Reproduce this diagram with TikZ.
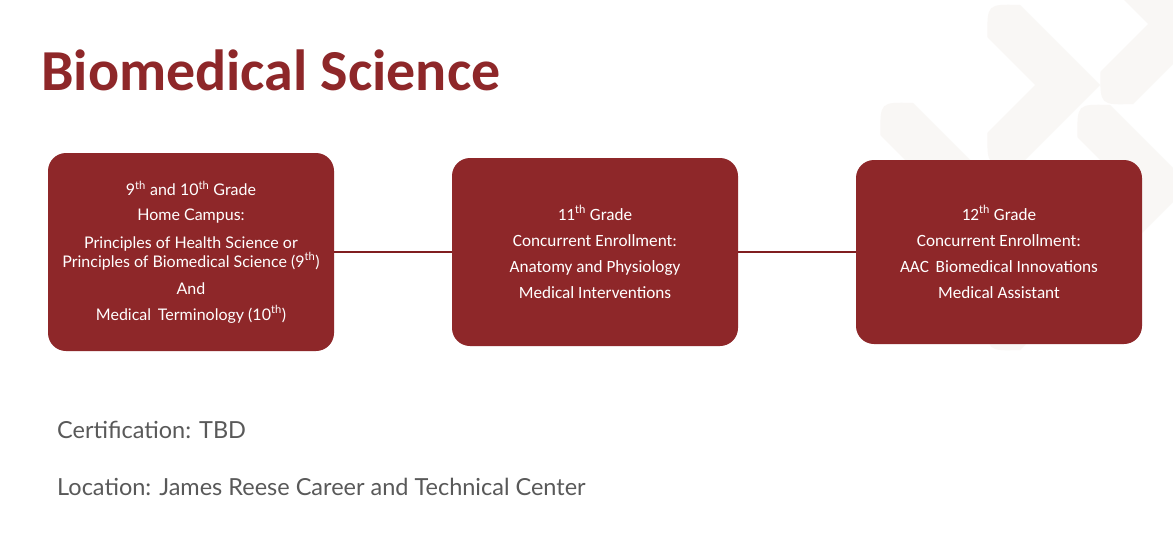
\documentclass[tikz,border=0pt]{standalone}
\usepackage{fontspec}
\setmainfont{Lato}
\newfontfamily\carlito{Carlito}
\newfontfamily\aptos{Lato}
\definecolor{brick}{RGB}{142,39,41}
\definecolor{lineRed}{RGB}{128,30,32}
\definecolor{chevfill}{RGB}{249,247,245}
\definecolor{graytext}{RGB}{89,89,89}
\newcommand\chevshape[2]{%
  \fill[chevfill,shift={(#1,#2)}] (0,0) -- (80,80) -- (0,160)
    .. controls (-33,161) .. (-32.5,127.5) -- (15,80) -- (-32.5,32.5)
    .. controls (-33,-1) .. (0,0) -- cycle;}
\tikzset{
  gradebox/.style={fill=brick, rounded corners=18pt, minimum width=286pt,
    inner sep=0pt, text=white, align=center},
  conn/.style={draw=lineRed, line width=2pt},
  footnote text/.style={anchor=west, text=graytext, font=\aptos\fontsize{23.5}{28}\selectfont, inner sep=0pt}
}
\begin{document}
\begin{tikzpicture}[x=1pt,y=-1pt]
\useasboundingbox (0,0) rectangle (1173,550);
\fill[white] (0,0) rectangle (1173,550);
\begin{scope}
  \clip (0,0) rectangle (1173,550);
  \chevshape{1020}{5}
  \chevshape{1133}{-56}
  \chevshape{913}{103}
  \chevshape{1110}{105}
  \chevshape{1020}{190}
\end{scope}

\node[anchor=base west, inner sep=0pt, text=brick, font=\carlito\bfseries\fontsize{58}{64}\selectfont] (title) at (41,90) {Biomedical Science};

\node[gradebox, minimum height=198pt, font=\aptos\fontsize{16}{18.5}\selectfont] (b1) at (191,252)
  {9\textsuperscript{th} and 10\textsuperscript{th} Grade\\[6.5pt]
   Home Campus:\\[9.5pt]
   Principles of Health Science or\\
   Principles of Biomedical Science (9\textsuperscript{th})\\[8.5pt]
   And\\[7.5pt]
   Medical\, Terminology (10\textsuperscript{th})};

\node[gradebox, minimum height=188pt, font=\carlito\fontsize{17.2}{26}\selectfont] (b2) at (595,252)
  {11\textsuperscript{th} Grade\\
   Concurrent Enrollment:\\
   Anatomy and Physiology\\
   Medical Interventions};

\node[gradebox, minimum height=184pt, font=\carlito\fontsize{17.2}{26}\selectfont] (b3) at (999,252)
  {12\textsuperscript{th} Grade\\
   Concurrent Enrollment:\\
   AAC\, Biomedical Innovations\\
   Medical Assistant};

\draw[conn] (b1.east) -- (b2.west);
\draw[conn] (b2.east) -- (b3.west);

\node[footnote text] (cert) at (57,430) {Certification: TBD};
\node[footnote text] (loc) at (57,487) {Location: James Reese Career and Technical Center};
\end{tikzpicture}
\end{document}
